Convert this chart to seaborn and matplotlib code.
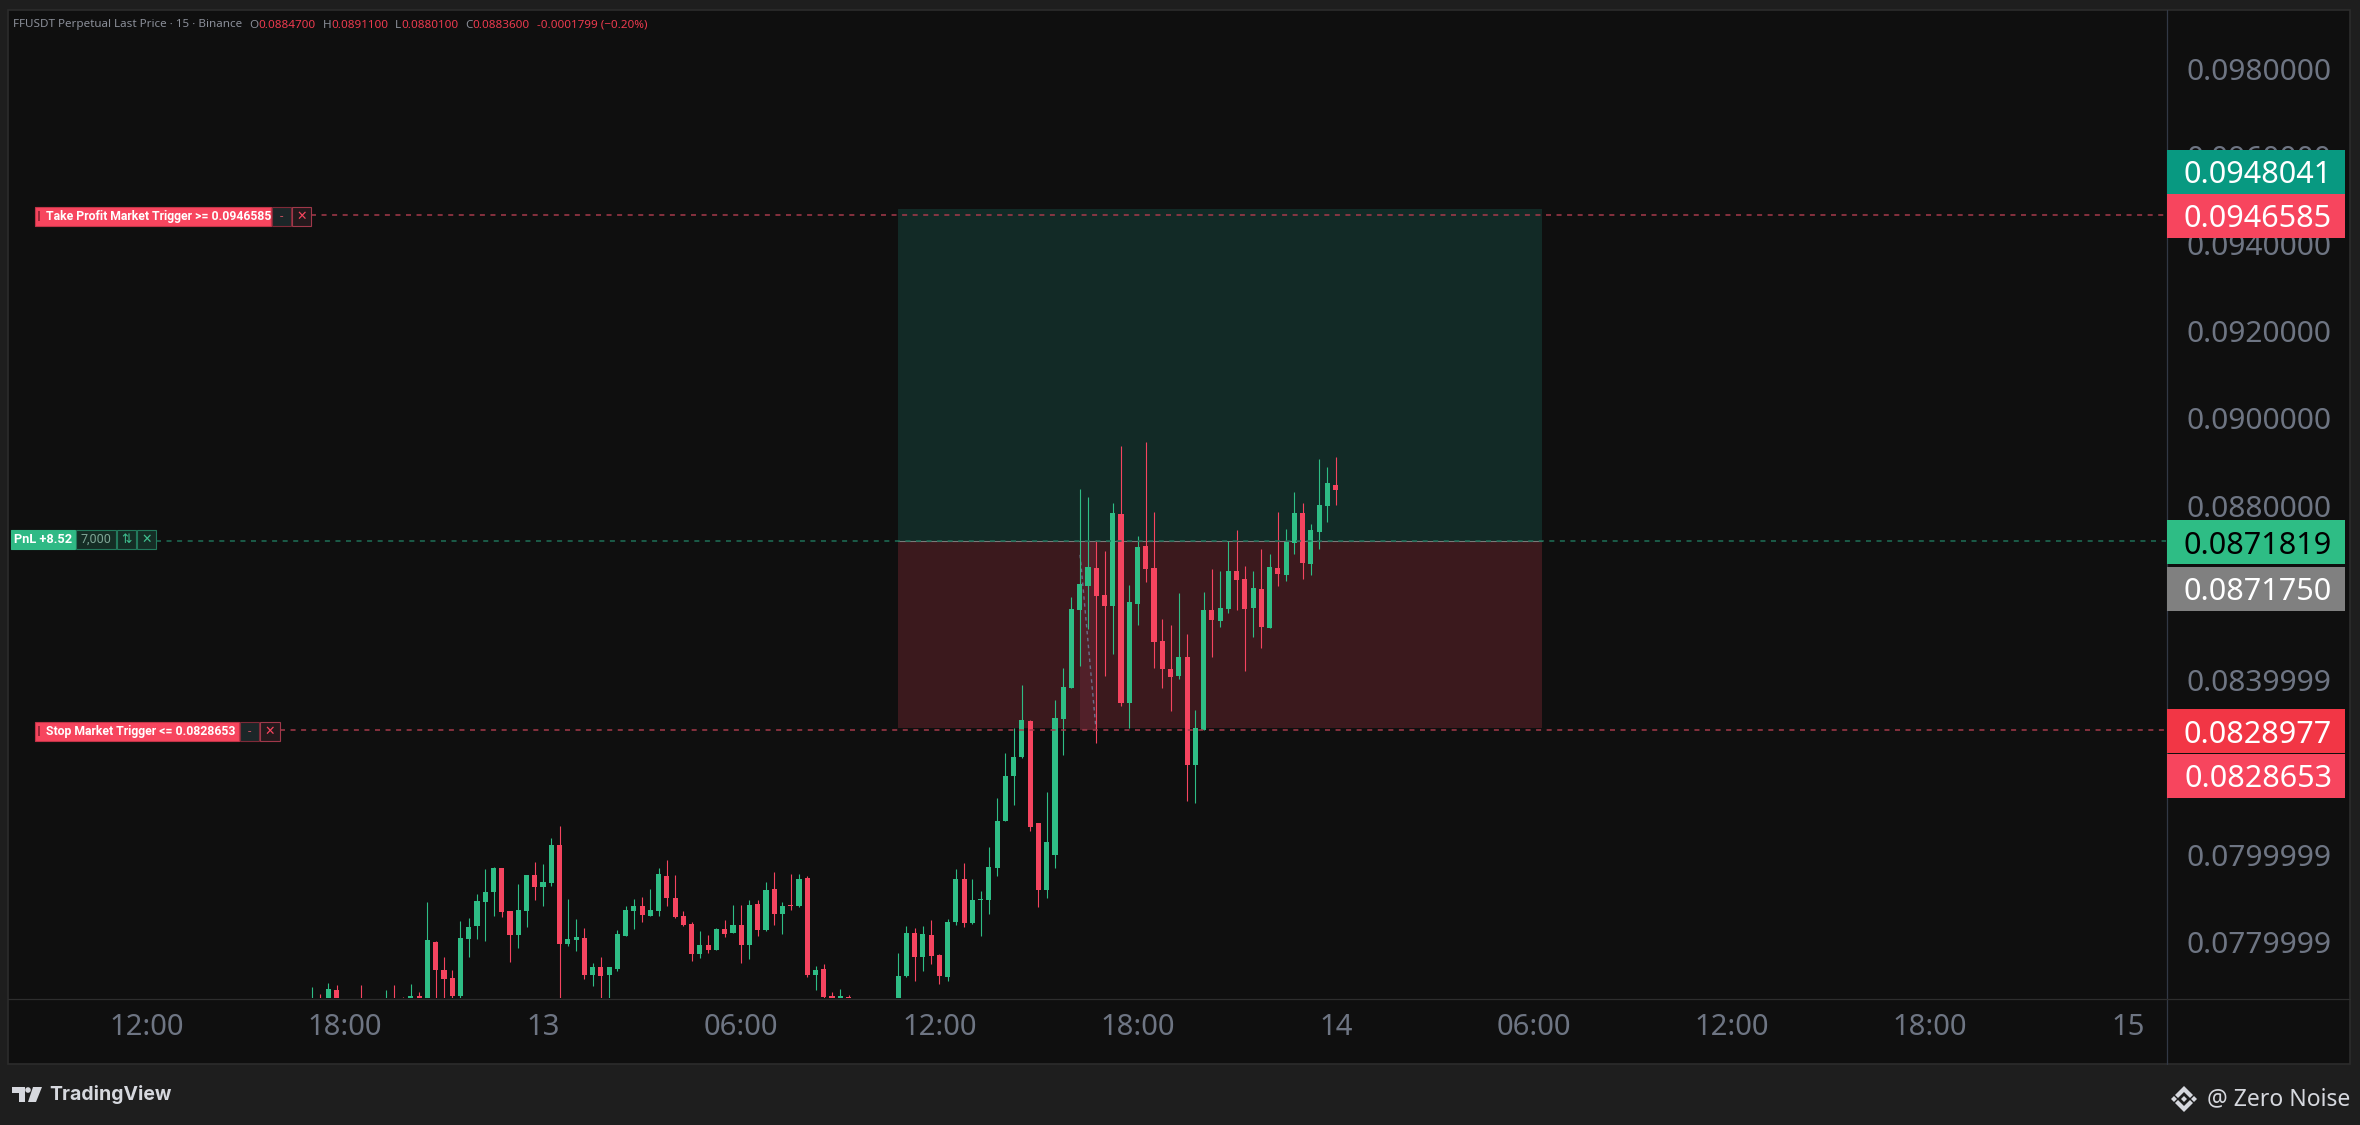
import numpy as np
import pandas as pd
import matplotlib
matplotlib.use("Agg")
import matplotlib.pyplot as plt
import seaborn as sns
from matplotlib.patches import Rectangle, Polygon
from matplotlib.lines import Line2D
from matplotlib.transforms import blended_transform_factory

# ---------------- data : FFUSDT perpetual, 15-minute candles ----------------
first_candle = "2025-09-12 17:00"
day13_start = "2025-09-13 00:00"

opens = [
    0.0763, 0.0766, 0.0765, 0.07690, 0.0764, 0.0762, 0.0765, 0.0763, 0.0764, 0.0762,
    0.0765, 0.0765, 0.0763, 0.07676, 0.0765, 0.07800, 0.07736, 0.07717, 0.07676, 0.07807,
    0.07837, 0.07892, 0.07915, 0.07970, 0.07871, 0.07816, 0.07871, 0.07953, 0.07926, 0.07935,
    0.08022, 0.07795, 0.07805, 0.07809, 0.07724, 0.07743, 0.07724, 0.07738, 0.07814, 0.07871,
    0.07882, 0.07860, 0.07871, 0.07951, 0.07901, 0.07860, 0.07841, 0.07772, 0.07793, 0.07782,
    0.07830, 0.07821, 0.07839, 0.07793, 0.07887, 0.07827, 0.07921, 0.07864, 0.07885, 0.07882,
    0.07947, 0.07724, 0.07738, 0.07676, 0.0764, 0.07674, 0.0763, 0.0759, 0.0761, 0.0758,
    0.0762, 0.0764, 0.07722, 0.07821, 0.07766, 0.07816, 0.07770, 0.07720, 0.07846, 0.07944,
    0.07843, 0.07897, 0.07896, 0.07969, 0.08077, 0.08180, 0.08224, 0.08306, 0.08072, 0.0792,
    0.0800, 0.08311, 0.08382, 0.08560, 0.08616, 0.08657, 0.08595, 0.08570, 0.08780, 0.08347,
    0.08574, 0.08707, 0.08657, 0.08490, 0.08425, 0.08409, 0.08453, 0.08205, 0.08286, 0.08560,
    0.08535, 0.08563, 0.08650, 0.08632, 0.08565, 0.08609, 0.08519, 0.08657, 0.08641, 0.08714,
    0.08783, 0.08666, 0.08739, 0.08799, 0.08847]
highs = [
    0.07697, 0.07681, 0.07706, 0.07701, 0.0766, 0.0766, 0.07701, 0.0766, 0.0766, 0.07690,
    0.07701, 0.07674, 0.07704, 0.07685, 0.07892, 0.07802, 0.07766, 0.07736, 0.07848, 0.07855,
    0.07910, 0.07967, 0.07971, 0.07970, 0.07871, 0.07933, 0.07953, 0.07983, 0.07979, 0.08038,
    0.08066, 0.07898, 0.07853, 0.07832, 0.07752, 0.07766, 0.07743, 0.07827, 0.07882, 0.07898,
    0.07903, 0.07921, 0.07970, 0.07988, 0.07953, 0.07871, 0.07846, 0.07825, 0.07816, 0.07832,
    0.07850, 0.07885, 0.07885, 0.07896, 0.07896, 0.07937, 0.07960, 0.07892, 0.07956, 0.07956,
    0.07951, 0.07745, 0.07750, 0.07685, 0.07692, 0.07679, 0.0765, 0.0763, 0.0763, 0.0764,
    0.0766, 0.07775, 0.07837, 0.07832, 0.07837, 0.07850, 0.07772, 0.07853, 0.07967, 0.07981,
    0.07944, 0.07917, 0.08018, 0.08130, 0.08233, 0.08290, 0.08389, 0.08309, 0.08072, 0.08143,
    0.08354, 0.08428, 0.08590, 0.08838, 0.08819, 0.08721, 0.08696, 0.08806, 0.08936, 0.08618,
    0.08730, 0.08945, 0.08785, 0.08540, 0.08526, 0.08599, 0.08506, 0.08331, 0.08602, 0.08654,
    0.08650, 0.08719, 0.08744, 0.08661, 0.08650, 0.08700, 0.08689, 0.08785, 0.08746, 0.08831,
    0.08806, 0.08758, 0.08906, 0.08888, 0.08911]
lows = [
    0.0760, 0.0762, 0.0763, 0.0762, 0.0760, 0.0760, 0.0760, 0.0761, 0.0760, 0.0760,
    0.0761, 0.0761, 0.0761, 0.0763, 0.0764, 0.0766, 0.0765, 0.0765, 0.07668, 0.07766,
    0.07807, 0.07802, 0.07860, 0.07857, 0.07754, 0.07786, 0.07834, 0.07896, 0.07882, 0.07928,
    0.0764, 0.07791, 0.07779, 0.07715, 0.07699, 0.0765, 0.0765, 0.07734, 0.07814, 0.07830,
    0.07846, 0.07860, 0.07860, 0.07882, 0.07855, 0.07837, 0.07756, 0.07763, 0.07775, 0.07782,
    0.07811, 0.07821, 0.07752, 0.07761, 0.07814, 0.07825, 0.07839, 0.07818, 0.07873, 0.07880,
    0.07720, 0.07690, 0.0765, 0.0763, 0.0762, 0.0761, 0.0757, 0.0757, 0.0756, 0.0757,
    0.0760, 0.0763, 0.07720, 0.07711, 0.07733, 0.07749, 0.07704, 0.07711, 0.07839, 0.07834,
    0.07841, 0.07814, 0.07864, 0.07951, 0.08077, 0.08114, 0.08222, 0.08055, 0.0788, 0.0790,
    0.0797, 0.08228, 0.08382, 0.08432, 0.08517, 0.08256, 0.08409, 0.08460, 0.08341, 0.08290,
    0.08526, 0.08625, 0.08428, 0.08382, 0.08329, 0.08402, 0.08123, 0.08118, 0.08286, 0.08453,
    0.08522, 0.08554, 0.08561, 0.08421, 0.08499, 0.08474, 0.08519, 0.08616, 0.08627, 0.08689,
    0.08632, 0.08641, 0.08700, 0.08762, 0.08801]
closes = [
    0.0766, 0.0764, 0.07692, 0.0764, 0.0762, 0.0765, 0.0763, 0.0764, 0.0762, 0.0765,
    0.0763, 0.0763, 0.07676, 0.0765, 0.07805, 0.07736, 0.07715, 0.07676, 0.07809, 0.07834,
    0.07894, 0.07915, 0.07970, 0.07869, 0.07816, 0.07873, 0.07953, 0.07926, 0.07937, 0.08022,
    0.07795, 0.07807, 0.07811, 0.07724, 0.07743, 0.07722, 0.07743, 0.07818, 0.07873, 0.07882,
    0.07862, 0.07873, 0.07956, 0.07901, 0.07857, 0.07839, 0.07772, 0.07793, 0.07782, 0.07830,
    0.07818, 0.07839, 0.07793, 0.07885, 0.07827, 0.07919, 0.07864, 0.07882, 0.07883, 0.07944,
    0.07724, 0.07736, 0.07674, 0.0765, 0.07676, 0.0763, 0.0759, 0.0761, 0.0758, 0.0762,
    0.0764, 0.07722, 0.07821, 0.07766, 0.07818, 0.07768, 0.07722, 0.07846, 0.07944, 0.07843,
    0.07896, 0.07898, 0.07972, 0.08077, 0.08180, 0.08224, 0.08308, 0.08063, 0.0792, 0.0803,
    0.08313, 0.08384, 0.08563, 0.08620, 0.08659, 0.08593, 0.08570, 0.08783, 0.08347, 0.08579,
    0.08705, 0.08654, 0.08487, 0.08425, 0.08407, 0.08453, 0.08205, 0.08290, 0.08560, 0.08538,
    0.08565, 0.08650, 0.08629, 0.08563, 0.08611, 0.08522, 0.08659, 0.08643, 0.08716, 0.08783,
    0.08668, 0.08744, 0.08801, 0.08851, 0.08836]

# price-scale ticks (0.086 and 0.082 are hidden behind price labels in the reference)
y_ticks = [0.078, 0.080, 0.082, 0.084, 0.086, 0.088, 0.090, 0.092, 0.094, 0.096, 0.098]
y_tick_labels = ["0.0779999", "0.0799999", "", "0.0839999", "", "0.0880000",
                 "0.0900000", "0.0920000", "0.0940000", "0.0960000", "0.0980000"]
x_tick_hours = [-12, -6, 0, 6, 12, 18, 24, 30, 36, 42, 48]
x_tick_labels = ["12:00", "18:00", "13", "06:00", "12:00", "18:00", "14", "06:00", "12:00", "18:00", "15"]
day_labels = ["13", "14", "15"]

# long position tool
position_hours = [10.75, 30.25]
entry_price = 0.0871819
target_price = 0.0948041
stop_zone_price = 0.0828977
tp_trigger = 0.0946585
sl_trigger = 0.0828653
avg_price = 0.0871750
fill_band_hours = [16.25, 16.75]
fill_line_hours = [16.26, 16.74]
fill_line_prices = [0.08687, 0.08290]

header_parts = [("FFUSDT Perpetual Last Price · 15 · Binance", "g"), ("O", "g"), ("0.0884700", "r"),
                ("H", "g"), ("0.0891100", "r"), ("L", "g"), ("0.0880100", "r"),
                ("C", "g"), ("0.0883600", "r"), ("-0.0001799 (−0.20%)", "r")]

# ---------------- style ----------------
W, H, DPI = 2360, 1125, 100
OUTER = "#1e1e1e"
PANE = "#0f0f0f"
GREEN = "#2ebd85"
RED = "#f5445f"
TICK_COL = "#6e7583"

sns.set_theme(style="dark", rc={"axes.facecolor": PANE, "figure.facecolor": OUTER,
                                "axes.edgecolor": PANE, "grid.color": PANE})
plt.rcParams["font.family"] = ["Noto Sans", "DejaVu Sans"]
plt.rcParams["lines.scale_dashes"] = False

fig = plt.figure(figsize=(W / DPI, H / DPI), dpi=DPI)
fig.patch.set_facecolor(OUTER)


def pixel_axes(zorder):
    a = fig.add_axes([0, 0, 1, 1], zorder=zorder)
    a.set_xlim(0, W)
    a.set_ylim(H, 0)
    a.set_axis_off()
    a.patch.set_alpha(0)
    return a


PANE_L, PANE_R, PANE_T, PANE_B = 8, 2350, 10, 1064
PLOT_R, PLOT_B = 2166, 998

bg = pixel_axes(0)
bg.add_patch(Rectangle((PANE_L, PANE_T), PANE_R - PANE_L, PANE_B - PANE_T,
                       facecolor=PANE, edgecolor="#2c2c2c", linewidth=1.2))
bg.plot([PLOT_R + 0.5, PLOT_R + 0.5], [PANE_T, PANE_B], color="#323846", lw=0.9)
bg.plot([PANE_L, PANE_R], [PLOT_B + 0.5, PLOT_B + 0.5], color="#2e2e2e", lw=0.9)

ax = fig.add_axes([PANE_L / W, 1 - PLOT_B / H, (PLOT_R - PANE_L) / W, (PLOT_B - PANE_T) / H], zorder=1)
ax.patch.set_alpha(0)
for s in ax.spines.values():
    s.set_visible(False)
ax.grid(False)

fg = pixel_axes(2)

# ---------------- candles ----------------
times = pd.date_range(first_candle, periods=len(opens), freq="15min")
hours = ((times - pd.Timestamp(day13_start)) / pd.Timedelta(hours=1)).to_numpy()
df = pd.DataFrame({"h": hours, "o": opens, "hi": highs, "lo": lows, "c": closes})
df["up"] = df["c"] >= df["o"]
df["col"] = np.where(df["up"], GREEN, RED)

ax.set_xlim(-16.2, 49.14)
ax.set_ylim(0.076717, 0.099352)
ppx = (0.099352 - 0.076717) / (PLOT_B - PANE_T)   # price per pixel

# position tool zones
ax.fill_between(position_hours, entry_price, target_price, color="#122a26", lw=0, zorder=0.5)
ax.fill_between(position_hours, stop_zone_price, entry_price, color="#3b191d", lw=0, zorder=0.5)
ax.fill_between(fill_band_hours, sl_trigger, entry_price, color="#512029", lw=0, zorder=0.6)
ax.plot(position_hours, [entry_price, entry_price], color="#7a7a7a", lw=0.8, zorder=0.7)
ax.plot(fill_line_hours, fill_line_prices, color="#6a6d88", lw=1.0, ls=(0, (2.5, 2.5)), zorder=0.8)

body_h = np.maximum((df["c"] - df["o"]).abs().to_numpy(), ppx)
ax.vlines(df["h"], df["lo"], df["hi"], colors=df["col"], linewidth=0.8, zorder=2)
ax.bar(df["h"], body_h, bottom=np.minimum(df["o"], df["c"]), width=0.155,
       color=df["col"], linewidth=0, zorder=2.1)

# ---------------- axes ticks ----------------
ax.yaxis.tick_right()
ax.set_yticks(y_ticks)
ax.set_yticklabels(y_tick_labels)
ax.set_xticks(x_tick_hours)
ax.set_xticklabels(x_tick_labels)
ax.tick_params(axis="y", length=0, pad=15, labelsize=21.5, labelcolor=TICK_COL)
ax.tick_params(axis="x", length=0, pad=11, labelsize=21, labelcolor=TICK_COL)
for lab in ax.get_xticklabels():
    if lab.get_text() in day_labels:
        lab.set_fontweight("bold")

# ---------------- level lines + labels ----------------
bt = blended_transform_factory(fg.transData, ax.transData)


def level_line(price, x0, color, dash):
    fg.add_line(Line2D([x0, PLOT_R], [price, price], transform=bt, color=color,
                       lw=1.1, ls=(0, dash), clip_on=False, zorder=1))


level_line(tp_trigger, 311, "#a63a4b", (3.6, 4.0))
level_line(sl_trigger, 280, "#a63a4b", (3.6, 4.0))
level_line(entry_price, 156, "#1e7058", (3.6, 4.0))

CHIP_FONT = ["Roboto", "Noto Sans", "DejaVu Sans"]


def chip(x0, x1, price, fc, ec, text, tc, weight="bold", size=8.8, ha="center", tx=None, hpx=19, dy=1.5):
    c = price - dy * ppx
    fg.add_patch(Rectangle((x0, c - hpx / 2 * ppx), x1 - x0, hpx * ppx, transform=bt,
                           facecolor=fc, edgecolor=ec, lw=0.8, clip_on=False, zorder=3))
    fg.text(tx if tx is not None else (x0 + x1) / 2, c, text, transform=bt, color=tc,
            ha=ha, va="center", fontsize=size, fontweight=weight, family=CHIP_FONT,
            clip_on=False, zorder=4)


PINK = "#f7455e"
# take profit
chip(35, 271, tp_trigger, PINK, "#c23448", "Take Profit Market Trigger >= 0.0946585", "white", ha="left", tx=46)
fg.add_patch(Rectangle((38, tp_trigger - 1.5 * ppx - 5 * ppx), 2, 10 * ppx, transform=bt,
                       facecolor="#9c2638", lw=0, zorder=5))
chip(272, 291, tp_trigger, "#1c2628", "#7e2a38", "-", "#c0505e", weight="normal")
chip(292, 311, tp_trigger, "#24191c", "#a0384a", "✕", PINK, weight="normal", size=9)
# stop loss
chip(35, 239, sl_trigger, PINK, "#c23448", "Stop Market Trigger <= 0.0828653", "white", ha="left", tx=46)
fg.add_patch(Rectangle((38, sl_trigger - 1.5 * ppx - 5 * ppx), 2, 10 * ppx, transform=bt,
                       facecolor="#9c2638", lw=0, zorder=5))
chip(240, 259, sl_trigger, "#1c2628", "#7e2a38", "-", "#c0505e", weight="normal")
chip(260, 280, sl_trigger, "#24191c", "#a0384a", "✕", PINK, weight="normal", size=9)
# PnL
chip(11, 75, entry_price, "#2fb985", "#2fb985", "PnL +8.52", "white", ha="left", tx=14, dy=-1.5, size=9.2)
chip(76, 116, entry_price, "#152d25", "#23795c", "7,000", "#7fa596", weight="normal", dy=-1.5, size=9)
chip(117, 136, entry_price, "#152d25", "#23795c", "⇅", "#3fbf8f", weight="normal", size=9, dy=-1.5)
chip(137, 156, entry_price, "#152d25", "#23795c", "✕", "#3fbf8f", weight="normal", size=9, dy=-1.5)

# right price-scale labels
right_labels = [("0.0948041", target_price, -37, "#089981", "white"),
                ("0.0946585", tp_trigger, 1, PINK, "white"),
                ("0.0871819", entry_price, 1, "#2ebd85", "black"),
                ("0.0871750", avg_price, 47, "#808080", "white"),
                ("0.0828977", stop_zone_price, 3, "#f23645", "white"),
                ("0.0828653", sl_trigger, 46, PINK, "white")]
for txt, p, off, fc, tc in right_labels:
    c = p - off * ppx
    fg.add_patch(Rectangle((PLOT_R + 1, c - 22 * ppx), 178, 44 * ppx, transform=bt,
                           facecolor=fc, lw=0, clip_on=False, zorder=3))
    fg.text(2258, c, txt, transform=bt, color=tc, ha="center", va="center_baseline",
            fontsize=22, fontweight="bold", clip_on=False, zorder=4)

# ---------------- header ----------------
renderer = fig.canvas.get_renderer()
x = 13
for i, (s, k) in enumerate(header_parts):
    col = "#8a8e98" if k == "g" else "#ec3a4e"
    t = fg.text(x, 25, s, color=col, ha="left", va="center", fontsize=8.4)
    x += t.get_window_extent(renderer).width
    if k == "r" or i == 0:
        x += 7

# ---------------- footer ----------------
TXT = "#d6d8de"
fg.add_patch(Polygon([(12, 1087), (25, 1087), (25, 1102), (19, 1102), (19, 1093), (12, 1093)],
                     facecolor=TXT, lw=0))
fg.add_patch(plt.Circle((28, 1090), 2.8, facecolor=TXT, lw=0))
fg.add_patch(Polygon([(33, 1087), (42, 1087), (36, 1102), (28, 1102)], facecolor=TXT, lw=0))
fg.text(49, 1095, "TradingView", color=TXT, ha="left", va="center", fontsize=14,
        fontweight="bold", family=["Inter", "Noto Sans", "DejaVu Sans"])

cx, cy = 2184, 1099
fg.add_patch(Polygon([(cx, cy - 13), (cx + 9, cy - 4), (cx + 6, cy - 1), (cx, cy - 7), (cx - 6, cy - 1), (cx - 9, cy - 4)],
                     facecolor=TXT, lw=0))
fg.add_patch(Polygon([(cx, cy + 13), (cx + 9, cy + 4), (cx + 6, cy + 1), (cx, cy + 7), (cx - 6, cy + 1), (cx - 9, cy + 4)],
                     facecolor=TXT, lw=0))
fg.add_patch(Polygon([(cx, cy - 3), (cx + 3, cy), (cx, cy + 3), (cx - 3, cy)], facecolor=TXT, lw=0))
fg.add_patch(Polygon([(cx - 13, cy), (cx - 10, cy - 3), (cx - 7, cy), (cx - 10, cy + 3)], facecolor=TXT, lw=0))
fg.add_patch(Polygon([(cx + 13, cy), (cx + 10, cy - 3), (cx + 7, cy), (cx + 10, cy + 3)], facecolor=TXT, lw=0))
fg.text(2350, 1099, "@ Zero Noise", color=TXT, ha="right", va="center", fontsize=16.5)

fig.savefig("out.png", dpi=DPI, facecolor=OUTER)
